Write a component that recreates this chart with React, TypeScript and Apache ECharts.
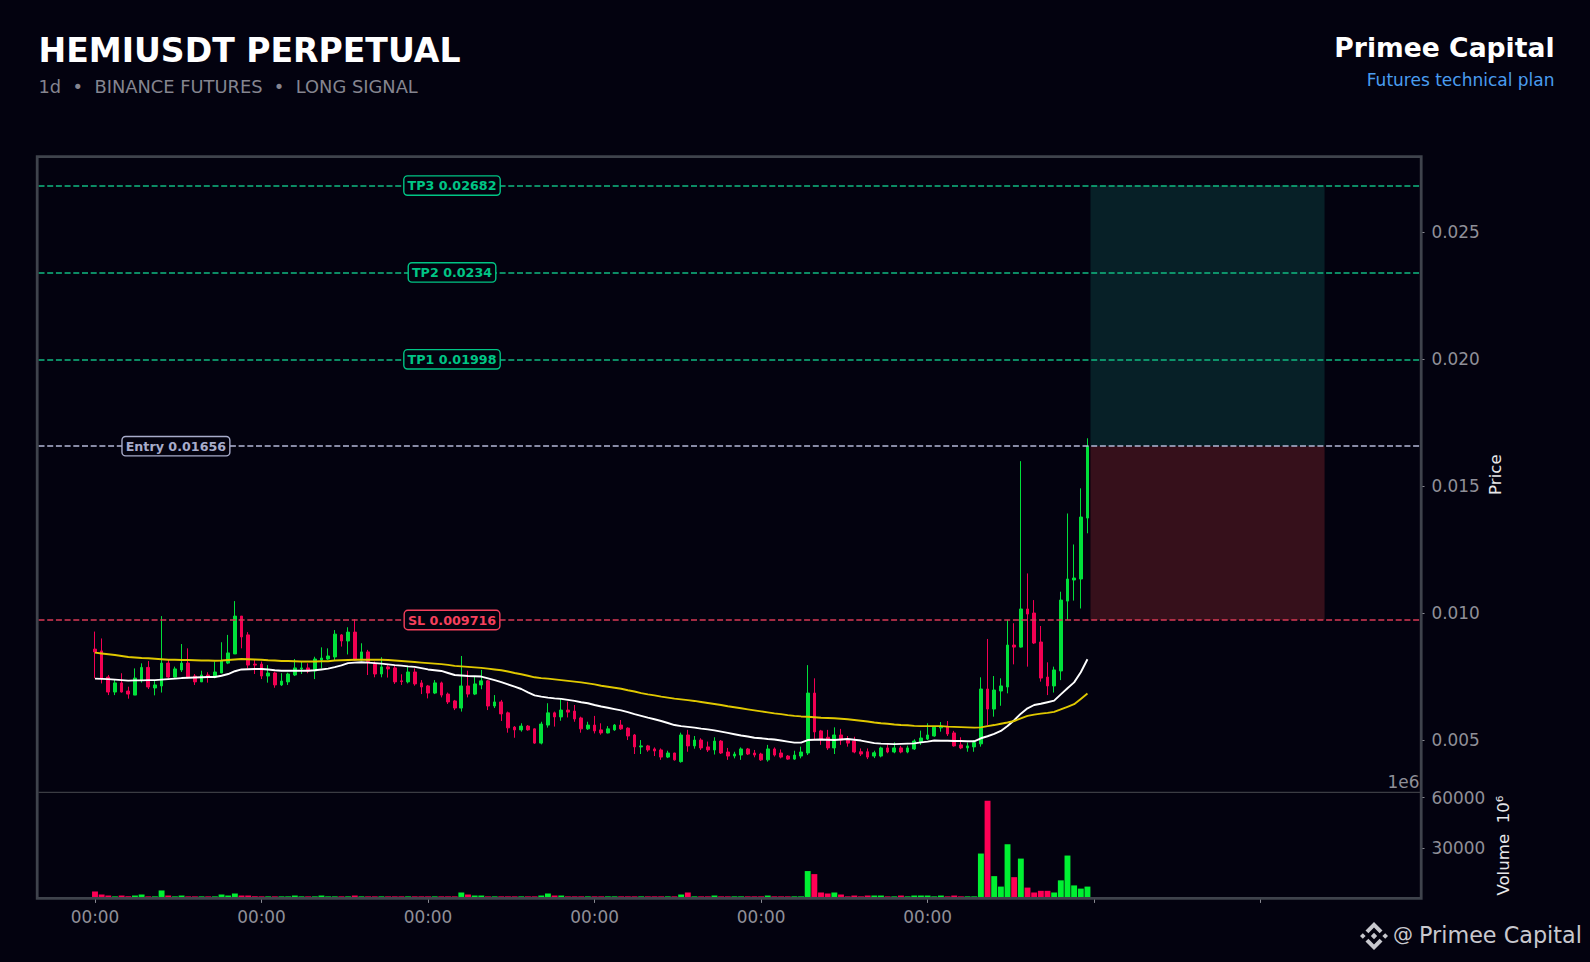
import React, { useEffect, useRef } from "react";
import * as echarts from "echarts";

const PRICE_UNIT = 1e-5;
const opens = [857,850,747,688,724,692,676,735,785,704,712,802,747,775,802,751,728,755,747,763,802,838,987,913,798,798,751,763,716,728,755,779,783,771,814,818,826,913,889,924,814,846,798,759,787,783,732,728,767,724,712,684,724,680,653,625,712,680,716,732,633,649,606,550,539,554,543,487,558,606,590,617,613,586,543,558,539,527,539,558,546,519,472,476,464,460,432,448,414,519,476,499,472,460,495,452,436,440,464,448,444,421,464,448,436,424,436,448,684,535,510,468,519,499,495,453,453,436,436,468,452,468,452,464,491,503,515,547,554,527,480,468,472,484,700,621,692,708,873,865,1015,999,885,747,712,771,1046,1129,1133,1373];
const closes = [846,742,688,724,688,680,743,785,708,716,802,747,779,802,747,728,755,747,767,810,842,987,905,794,794,751,763,716,731,759,783,783,771,818,822,830,916,889,924,814,846,808,759,787,779,728,729,767,720,708,684,724,676,649,625,712,680,720,732,633,649,602,547,539,554,539,487,562,606,590,617,609,582,543,558,535,527,543,558,543,515,472,476,460,456,432,448,421,519,476,499,468,460,495,448,436,444,464,444,440,421,464,440,432,424,440,452,684,531,503,468,519,499,487,452,444,432,449,468,452,468,452,468,495,507,519,550,554,523,476,468,476,489,700,621,696,712,873,865,1015,995,881,743,712,775,1050,1133,1137,1377,1656];
const lows = [742,722,676,676,686,662,676,725,700,675,686,742,745,767,742,716,728,725,742,763,798,838,860,781,759,739,725,705,712,716,751,759,762,739,781,814,814,867,836,812,812,755,746,746,745,720,716,722,713,680,663,680,667,641,617,611,667,676,699,617,625,574,528,508,532,536,484,482,548,552,575,588,571,528,539,525,520,525,535,539,499,444,444,453,436,421,428,418,410,453,465,460,452,442,444,421,427,421,440,431,417,414,434,427,421,421,427,440,499,480,460,444,480,473,447,436,424,428,431,447,447,447,447,460,480,499,512,532,515,473,463,453,453,473,558,591,634,683,797,863,788,877,729,676,686,735,972,1048,1017,1313];
const highs = [926,899,755,738,762,709,781,801,810,735,987,814,788,877,860,759,772,766,808,884,913,1046,987,924,814,808,794,768,762,764,818,808,801,827,864,860,932,916,943,975,880,854,808,825,794,794,758,788,781,735,716,735,729,686,657,830,772,749,775,735,676,657,611,554,565,558,545,571,644,611,663,650,637,591,571,594,565,554,562,578,549,523,499,480,470,466,457,449,528,539,515,506,493,510,499,468,453,470,468,460,449,480,470,462,440,457,473,794,742,539,539,549,543,515,512,466,466,457,473,482,490,476,477,502,536,565,552,570,574,535,510,489,499,746,897,751,742,972,959,1597,1155,1050,948,805,788,1083,1391,1269,1490,1687];
const volumes = [4400,2600,2000,1500,2000,1500,2000,2600,1500,1500,5000,2000,1500,2000,1500,1500,1500,1500,1500,2600,2000,3200,2000,2000,1500,1500,1500,1500,1500,1500,2000,1500,1500,1500,2000,1500,1500,1500,1500,2000,1500,1500,1500,1500,1500,1500,1500,1500,1500,1500,1500,1500,1500,1500,1500,3800,2600,2000,2000,1500,1500,1500,1500,1500,1500,1500,1500,2000,3200,2000,2000,1500,1500,1500,1500,1500,1500,1500,1500,1500,1500,1500,1500,1500,1500,1500,1500,1500,2600,3800,1500,1500,1500,2000,1500,1500,1500,1500,1500,1500,1500,2000,1500,1500,1500,1500,1500,16500,14700,3800,3200,3800,2600,1500,2000,1500,2000,2000,2000,1500,1500,2000,1500,2000,2000,2000,1500,2000,1500,2000,1500,1500,1500,26900,58200,13500,7300,32400,12900,23900,6700,3800,4800,4800,3800,11000,25700,8000,6100,7300];
const emaFast = [741,740,739,737,735,733,734,734,735,735,737,739,741,743,744,745,746,747,747,752,759,770,777,778,779,779,777,774,772,772,772,772,772,774,777,780,786,793,802,804,805,804,802,800,797,794,792,789,787,782,777,774,771,763,755,753,751,750,749,742,735,727,718,709,700,687,675,670,666,663,661,657,653,648,644,637,631,626,621,616,609,601,594,587,581,574,566,558,554,551,548,544,541,537,532,527,522,517,513,508,506,503,501,497,493,489,489,499,500,501,500,499,501,503,500,497,492,487,485,484,483,484,485,486,490,493,497,496,496,495,495,494,494,506,514,523,535,554,577,603,624,637,642,648,654,679,703,726,766,817];
const emaSlow = [843,840,837,834,830,826,824,822,821,819,817,815,815,814,814,813,812,812,811,812,814,816,818,817,816,815,813,812,810,810,809,808,808,808,809,809,812,813,814,815,815,815,815,815,814,812,810,808,806,804,802,800,798,795,791,789,787,785,783,780,777,774,769,763,758,752,746,743,741,738,735,732,729,726,722,718,713,709,705,701,695,690,684,679,675,670,666,662,659,656,653,649,645,641,637,632,628,624,620,616,612,608,604,601,597,594,592,591,589,587,586,585,583,581,578,575,572,568,565,563,560,558,557,555,554,554,554,554,552,551,550,549,548,549,554,558,563,568,574,584,594,599,603,606,610,620,630,640,661,682];

const levelNames = ["TP3", "TP2", "TP1", "Entry", "SL"];
const levelValues = [0.02682, 0.0234, 0.01998, 0.01656, 0.009716];
const levelLabelX = [53.6, 53.6, 53.6, 12.15, 53.6];
const levelLineColors = ["#10b981", "#10b981", "#10b981", "#b4b8d8", "#d93a55"];
const levelLabelColors = ["#00c585", "#00c585", "#00c585", "#a8accb", "#f5405c"];
const priceTicks = [0.005, 0.01, 0.015, 0.02, 0.025];
const volumeTicks = [30000, 60000];
const timeLabelTicks = [0, 25, 50, 75, 100, 125];
const timeMarkTicks = [0, 25, 50, 75, 100, 125, 150, 175];
const timeLabel = "00:00";

const BG = "#03020f";
const UP = "#00e03a";
const DOWN = "#f20052";
const FONT = "DejaVu Sans";
const X_MIN = -8.48;
const X_MAX = 199;
const ENTRY = levelValues[3];
const SL = levelValues[4];
const TP3 = levelValues[0];

const p = (n: number) => n * PRICE_UNIT;

function App() {
  const ref = useRef<HTMLDivElement>(null);
  useEffect(() => {
    document.body.style.margin = "0";
    document.body.style.background = BG;
    const chart = echarts.init(ref.current!, undefined, { renderer: "svg" });
    const tickLabel = { color: "#8f8f98", fontSize: 16.9, fontFamily: FONT };
    const option = {
      animation: false,
      backgroundColor: BG,
      tooltip: { show: false },
      grid: [
        { left: 38.5, right: 169.5, top: 157, height: 635.3, show: false },
        { left: 38.5, right: 169.5, top: 792.3, height: 106.6, show: false },
      ],
      xAxis: [
        {
          type: "value", gridIndex: 0, min: X_MIN, max: X_MAX, splitLine: { show: false },
          axisLine: { show: false, onZero: false }, axisTick: { show: false }, axisLabel: { show: false },
        },
        {
          type: "value", gridIndex: 1, min: X_MIN, max: X_MAX, splitLine: { show: false },
          axisLine: { show: false, onZero: false },
          axisTick: { show: true, length: 4, lineStyle: { color: "#8a8a92", width: 1 }, customValues: timeMarkTicks },
          axisLabel: { ...tickLabel, show: true, margin: 10, customValues: timeLabelTicks, formatter: () => timeLabel, hideOverlap: false, showMinLabel: true, showMaxLabel: true },
        },
      ],
      yAxis: [
        {
          type: "value", gridIndex: 0, position: "right", min: 0.002933, max: 0.027944, splitLine: { show: false },
          name: "Price", nameLocation: "middle", nameRotate: 90, nameGap: 66, nameMoveOverlap: false,
          nameTextStyle: { color: "#e8e8ea", fontSize: 16.6, fontFamily: FONT },
          axisLine: { show: false, onZero: false },
          axisTick: { show: true, length: 4, lineStyle: { color: "#8a8a92", width: 1 }, customValues: priceTicks },
          axisLabel: { ...tickLabel, margin: 11, padding: [2, 0, 0, 0], customValues: priceTicks, formatter: (v: number) => v.toFixed(3) },
        },
        {
          type: "value", gridIndex: 1, position: "right", min: 0, max: 63200, splitLine: { show: false },
          name: "Volume  10\u2076", nameLocation: "middle", nameRotate: 90, nameGap: 74, nameMoveOverlap: false,
          nameTextStyle: { color: "#e8e8ea", fontSize: 16.6, fontFamily: FONT },
          axisLine: { show: false, onZero: false },
          axisTick: { show: true, length: 4, lineStyle: { color: "#8a8a92", width: 1 }, customValues: volumeTicks },
          axisLabel: { ...tickLabel, margin: 11, customValues: volumeTicks, formatter: (v: number) => String(v) },
        },
      ],
      series: [
        {
          type: "candlestick", name: "Price", xAxisIndex: 0, yAxisIndex: 0, barWidth: 3.2, z: 3,
          data: opens.map((o, i) => [i, p(o), p(closes[i]), p(lows[i]), p(highs[i])]),
          itemStyle: { color: UP, color0: DOWN, borderColor: UP, borderColor0: DOWN, borderColorDoji: UP, borderWidth: 1 },
          markArea: {
            silent: true, z: 1,
            data: [
              [{ coord: [149.45, TP3], itemStyle: { color: "#072027" } }, { coord: [184.6, ENTRY] }],
              [{ coord: [149.45, ENTRY], itemStyle: { color: "#36101b" } }, { coord: [184.6, SL] }],
            ],
          },
        },
        {
          type: "line", name: "EMA fast", xAxisIndex: 0, yAxisIndex: 0, showSymbol: false, symbol: "none", z: 4,
          lineStyle: { color: "#ffffff", width: 1.9 }, data: emaFast.map((v, i) => [i, p(v)]),
        },
        {
          type: "line", name: "EMA slow", xAxisIndex: 0, yAxisIndex: 0, showSymbol: false, symbol: "none", z: 4,
          lineStyle: { color: "#e0c800", width: 1.9 }, data: emaSlow.map((v, i) => [i, p(v)]),
        },
        {
          type: "line", name: "Levels", xAxisIndex: 0, yAxisIndex: 0, showSymbol: false, symbol: "none", z: 5, data: [],
          markLine: {
            silent: true, symbol: "none", precision: 6, label: { show: false }, z: 5,
            data: levelValues.map((v, i) => ({
              yAxis: v,
              lineStyle: { color: levelLineColors[i], type: [6, 2.7], width: 1.5 },
            })),
          },
        },
        {
          type: "scatter", name: "Level labels", xAxisIndex: 0, yAxisIndex: 0, symbolSize: 1, z: 6,
          itemStyle: { color: "rgba(0,0,0,0)", opacity: 1 },
          data: levelValues.map((v, i) => ({
            value: [levelLabelX[i], v],
            label: {
              show: true, position: "inside", formatter: `${levelNames[i]} ${v}`,
              color: levelLabelColors[i], borderColor: levelLabelColors[i], borderWidth: 1.4, borderRadius: 3,
              backgroundColor: BG, padding: [3, 3, 2, 3], fontFamily: FONT, fontWeight: "bold", fontSize: 12.7,
            },
          })),
        },
        {
          type: "bar", name: "Volume", xAxisIndex: 1, yAxisIndex: 1, barWidth: 5.9,
          data: volumes.map((v, i) => ({
            value: [i, v],
            itemStyle: { color: closes[i] >= opens[i] ? "#00f032" : "#ff0055" },
          })),
        },
      ],
      graphic: [
        { type: "rect", silent: true, z: 20, shape: { x: 37.2, y: 156.6, width: 1384, height: 741.8 }, style: { fill: "none", stroke: "#3f434c", lineWidth: 2.8 } },
        { type: "line", silent: true, z: 20, shape: { x1: 38.5, y1: 792.3, x2: 1420, y2: 792.3 }, style: { stroke: "#3b3c43", lineWidth: 1.3 } },
        { type: "text", left: 38.5, top: 34, style: { text: "HEMIUSDT PERPETUAL", fill: "#ffffff", font: `bold 33.1px "${FONT}"` } },
        { type: "text", left: 38.5, top: 77, style: { text: "1d  \u2022  BINANCE FUTURES  \u2022  LONG SIGNAL", fill: "#85858f", font: `17.85px "${FONT}"` } },
        { type: "text", right: 35.5, top: 34, style: { text: "Primee Capital", fill: "#ffffff", font: `bold 26.6px "${FONT}"` } },
        { type: "text", right: 35.5, top: 71.5, style: { text: "Futures technical plan", fill: "#4a9df0", font: `17px "${FONT}"` } },
        { type: "text", right: 170.5, top: 773, z: 21, style: { text: "1e6", fill: "#8f8f98", font: `16.9px "${FONT}"` } },
        { type: "text", left: 1393, top: 924, style: { text: "@", fill: "#c8c8ce", font: `20px "${FONT}"` } },
        { type: "text", left: 1419, top: 924, style: { text: "Primee Capital", fill: "#c8c8ce", font: `22.3px "${FONT}"` } },
        {
          type: "group", x: 1374, y: 936,
          children: [
            { type: "polygon", shape: { points: [[0, -14], [8.5, -5.5], [5.6, -2.8], [0, -8.4], [-5.6, -2.8], [-8.5, -5.5]] }, style: { fill: "#c8c8ce" } },
            { type: "polygon", shape: { points: [[0, 14], [8.5, 5.5], [5.6, 2.8], [0, 8.4], [-5.6, 2.8], [-8.5, 5.5]] }, style: { fill: "#c8c8ce" } },
            { type: "polygon", shape: { points: [[-14, 0], [-11.2, -2.8], [-8.4, 0], [-11.2, 2.8]] }, style: { fill: "#c8c8ce" } },
            { type: "polygon", shape: { points: [[14, 0], [11.2, -2.8], [8.4, 0], [11.2, 2.8]] }, style: { fill: "#c8c8ce" } },
            { type: "polygon", shape: { points: [[0, -3.2], [3.2, 0], [0, 3.2], [-3.2, 0]] }, style: { fill: "#c8c8ce" } },
          ],
        },
      ],
    };
    chart.setOption(option as any);
    return () => chart.dispose();
  }, []);
  return <div ref={ref} style={{ position: "fixed", left: 0, top: 0, width: 1590, height: 962 }} />;
}

export default App;
